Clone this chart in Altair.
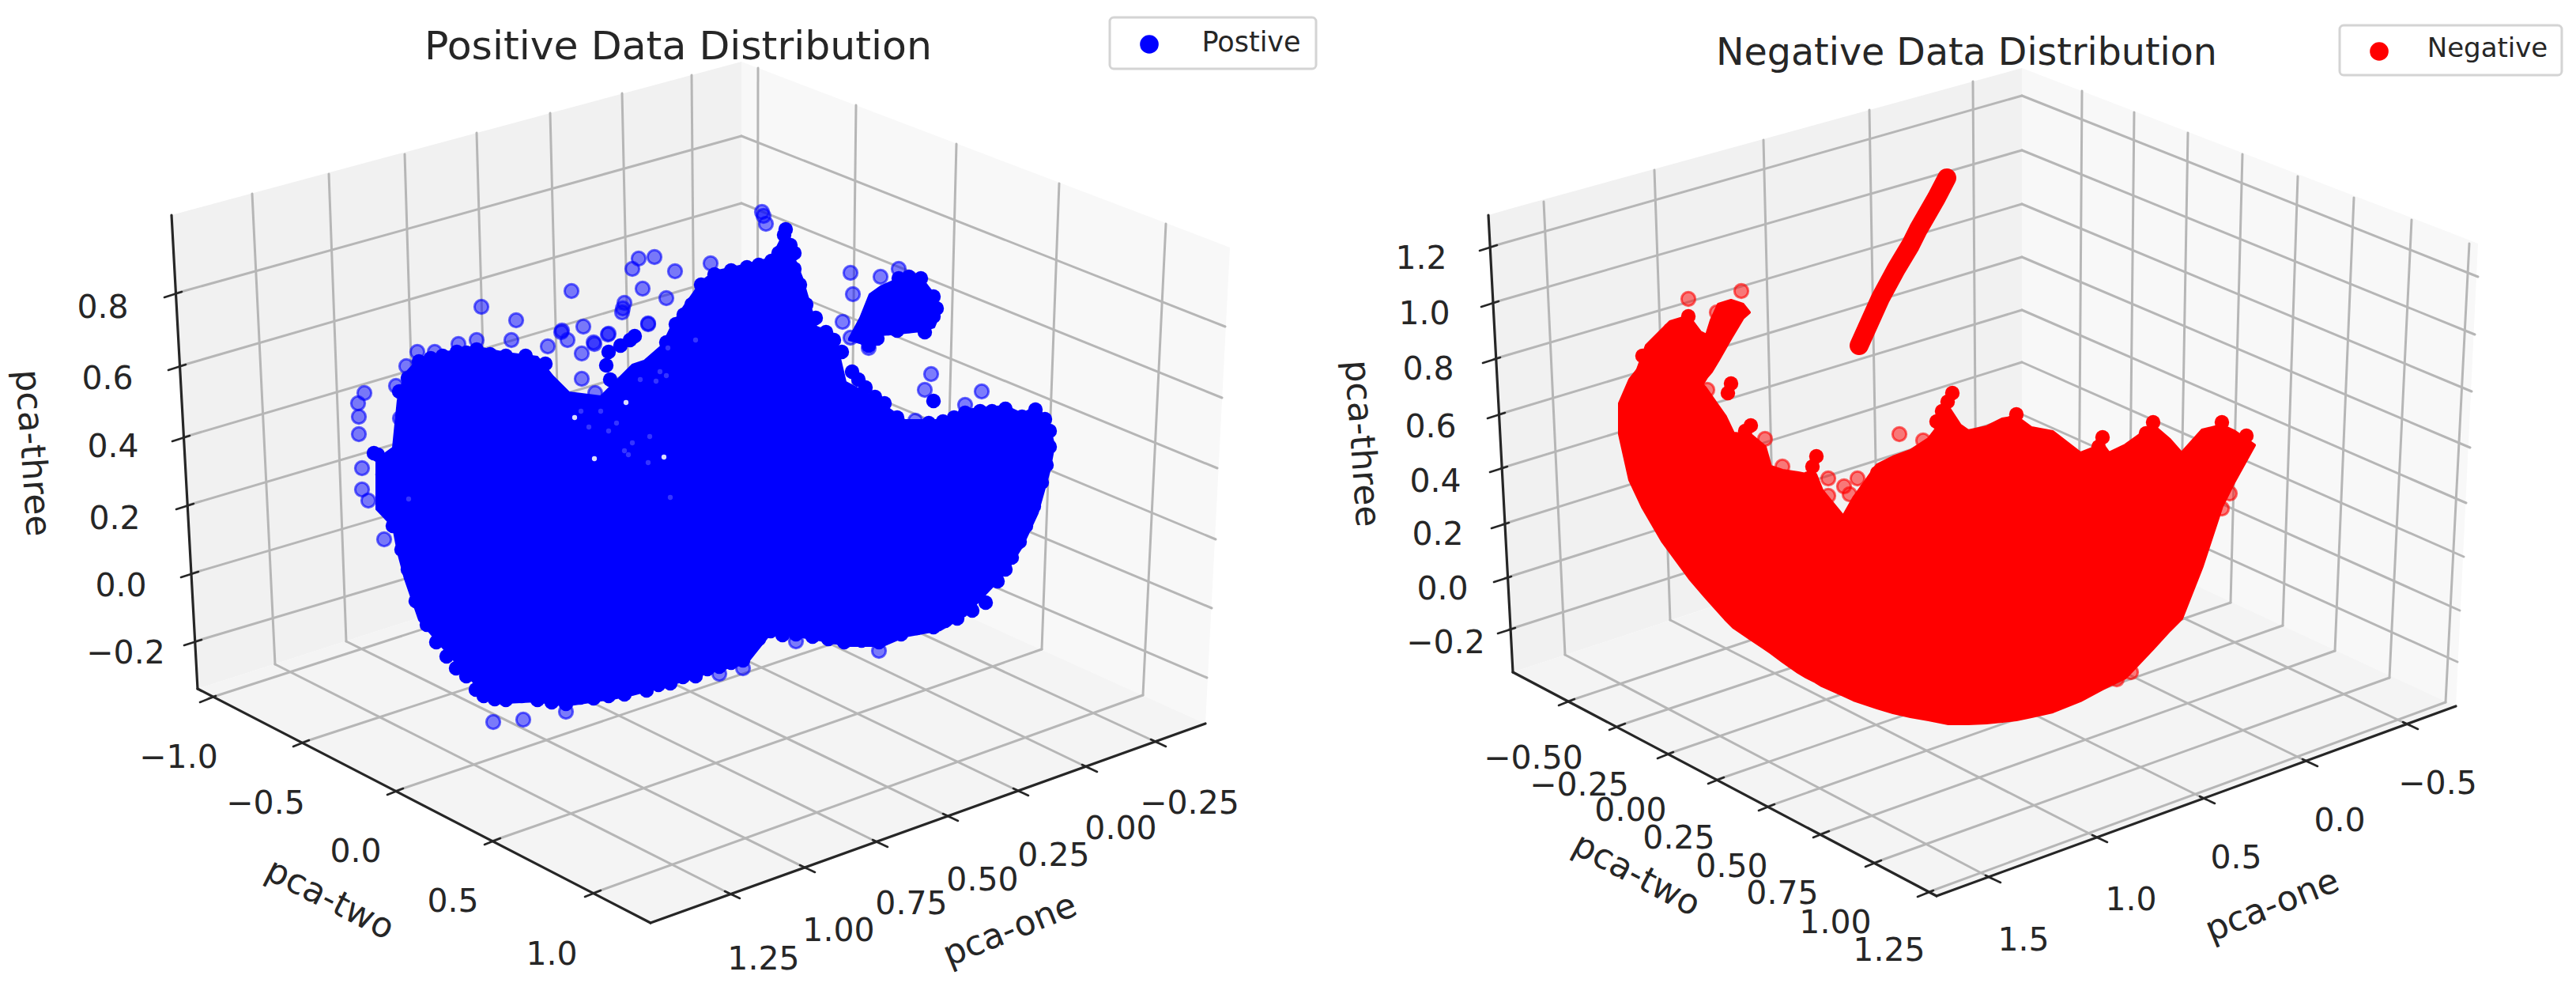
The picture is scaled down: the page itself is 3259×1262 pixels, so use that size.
import altair as alt
import pandas as pd

SCALE_X = alt.Scale(domain=[8, 3251], nice=False, zero=False)
SCALE_Y = alt.Scale(domain=[1254, 8], nice=False, zero=False)
X = alt.X("x:Q", scale=SCALE_X, axis=None)
Y = alt.Y("y:Q", scale=SCALE_Y, axis=None)

BLUE = "#0000ff"
RED = "#ff0000"
GRID = "#b6b6b6"
INK = "#262626"
WALL_L = "#f1f1f1"
WALL_R = "#f8f8f8"
FLOOR = "#f4f4f4"

# ---- left panel frame
L_panes = [
    ([217, 250, 938], [272, 263, 78], [272, 871, 650], WALL_L),
    ([938, 1525, 1556], [78, 301, 313], [650, 915, 313], WALL_R),
    ([250, 823, 938, 1525], [871, 687, 650, 915], [871, 1167, 1126, 915], FLOOR),
]
L_axes = [(217, 272, 250, 871), (250, 871, 823, 1167), (823, 1167, 1525, 915)]
L_z_ticks = [(222, 371), (227, 463), (232, 553), (237, 639), (243, 725), (247, 811)]
L_z_back_x = 938
L_z_back = [172, 257, 345, 432, 520, 605]
L_z_right = [(1550, 413), (1546, 503), (1540, 592), (1538, 682), (1533, 769), (1527, 857)]
L_wall1_top = [(319, 245), (416, 220), (512, 195), (603, 168), (696, 143), (787, 118), (875, 95)]
L_wall1_bot = [(348, 840), (438, 811), (530, 781), (620, 752), (711, 723), (800, 694), (880, 669)]
L_tick1 = [(925, 1131), (1020, 1098), (1112, 1066), (1201, 1033), (1290, 1001), (1377, 971), (1464, 939)]
L_wall2_top = [(959, 86), (1083, 133), (1210, 182), (1340, 232), (1475, 283)]
L_wall2_bot = [(958, 659), (1076, 712), (1195, 766), (1318, 821), (1446, 879)]
L_tick2 = [(264, 883), (382, 939), (501, 1000), (624, 1063), (751, 1129)]

# ---- right panel frame
R_panes = [
    ([1883, 1914, 2558], [272, 263, 86], [272, 850, 638], WALL_L),
    ([2558, 3107, 3135], [86, 297, 308], [638, 893, 308], WALL_R),
    ([1914, 2450, 2558, 3107], [850, 674, 638, 893], [850, 1133, 1094, 893], FLOOR),
]
R_axes = [(1883, 272, 1914, 850), (1914, 850, 2450, 1133), (2450, 1133, 3107, 893)]
R_z_ticks = [(1886, 312), (1888, 383), (1890, 454), (1896, 524), (1899, 592), (1901, 663), (1904, 731), (1909, 796)]
R_z_back_x = 2558
R_z_back = [121, 190, 258, 325, 392, 458, 524, 588]
R_z_right = [(3135, 350), (3131, 423), (3127, 495), (3125, 566), (3120, 636), (3117, 704), (3112, 772), (3109, 837)]
R_wall1_top = [(1953, 255), (2093, 215), (2231, 177), (2365, 139), (2496, 103)]
R_wall1_bot = [(1980, 828), (2113, 784), (2245, 741), (2375, 698), (2500, 657)]
R_tick1 = [(2520, 1111), (2655, 1060), (2791, 1011), (2921, 964), (3048, 917)]
R_wall2_top = [(2634, 115), (2700, 142), (2768, 168), (2837, 195), (2907, 223), (2978, 250), (3051, 278), (3124, 308)]
R_wall2_bot = [(2630, 671), (2694, 701), (2758, 731), (2822, 762), (2888, 791), (2954, 823), (3023, 857), (3094, 888)]
R_tick2 = [(1983, 887), (2047, 918), (2108, 954), (2172, 986), (2236, 1020), (2305, 1054), (2371, 1091), (2437, 1129)]

# ---- silhouettes of the dense point clouds
blue_x = [476, 497, 503, 512, 530, 560, 600, 640, 680, 700, 720, 760, 775, 800, 815, 838, 850, 864, 887, 904, 945, 976, 990, 1005, 1015, 1033, 1057, 1063, 1070, 1100, 1117, 1145, 1190, 1221, 1272, 1293, 1313, 1328, 1334]
blue_top = [581, 566, 506, 473, 453, 446, 438, 446, 451, 476, 496, 501, 486, 461, 456, 436, 411, 389, 356, 343, 334, 326, 298, 326, 351, 413, 423, 453, 483, 499, 511, 531, 531, 518, 513, 523, 513, 540, 563]
blue_bot = [644, 666, 698, 732, 784, 819, 864, 889, 887, 891, 892, 886, 884, 879, 875, 869, 865, 862, 854, 849, 839, 800, 802, 805, 806, 809, 814, 815, 817, 817, 817, 805, 797, 779, 725, 692, 649, 596, 563]
blue2_x = [1074, 1088, 1100, 1114, 1137, 1165, 1182, 1190]
blue2_top = [428, 402, 372, 362, 352, 350, 372, 392]
blue2_bot = [430, 434, 441, 424, 422, 419, 414, 394]

red_x = [2049, 2062, 2078, 2103, 2139, 2157, 2183, 2193, 2215, 2233, 2240, 2255, 2275, 2285, 2297, 2305, 2332, 2345, 2375, 2395, 2417, 2440, 2450, 2465, 2480, 2490, 2513, 2533, 2551, 2570, 2597, 2632, 2660, 2668, 2689, 2724, 2745, 2760, 2786, 2811, 2826, 2852]
red_top = [510, 480, 460, 455, 470, 490, 527, 548, 550, 565, 590, 595, 598, 600, 600, 620, 653, 630, 588, 578, 570, 555, 542, 515, 538, 545, 540, 530, 527, 541, 546, 573, 562, 573, 563, 538, 556, 573, 544, 538, 545, 563]
red_bot = [549, 607, 641, 684, 733, 754, 783, 793, 808, 820, 825, 836, 850, 856, 862, 867, 879, 885, 895, 901, 906, 910, 912, 915, 915, 915, 914, 912, 910, 906, 900, 886, 871, 867, 857, 820, 797, 782, 716, 640, 610, 563]
red2_x = [2060, 2083, 2113, 2136, 2151, 2159, 2165, 2174, 2190, 2205, 2213]
red2_top = [500, 437, 407, 400, 420, 424, 405, 385, 380, 385, 395]
red2_bot = [520, 520, 520, 520, 490, 477, 470, 455, 427, 402, 395]
red_streak = [(2463, 225), (2450, 250), (2427, 290), (2417, 310), (2399, 340), (2379, 377), (2352, 437)]

# ---- individual points around the clouds
blue_solid = [
    (478, 575), (484, 600), (490, 630), (497, 665), (508, 695), (516, 720), (526, 760), (540, 790), (552, 812), (565, 830), (577, 845), (590, 855), (602, 872), (612, 880),
    (626, 884), (640, 885), (660, 880), (680, 885), (698, 888), (716, 890), (734, 882), (751, 883), (770, 880), (790, 878), (818, 873), (833, 866), (848, 864), (864, 856), (880, 855), (895, 846), (910, 843),
    (925, 838), (940, 835), (950, 815), (960, 808), (975, 798), (990, 803), (1007, 802), (1028, 805), (1048, 808), (1068, 812), (1090, 810), (1112, 812), (1126, 803), (1140, 802), (1160, 794), (1181, 793), (1196, 785),
    (1211, 782), (1230, 772), (1247, 762), (1262, 735), (1272, 720), (1280, 705), (1290, 685), (1298, 665), (1308, 640), (1318, 610), (1324, 588), (1328, 565), (1328, 545), (1322, 530), (1310, 518),
    (1293, 527), (1272, 517), (1255, 520), (1240, 520), (1221, 522), (1207, 528), (1193, 533), (1175, 535), (1135, 528), (1119, 510), (1107, 502), (1095, 490), (1086, 480), (1078, 470), (1065, 445),
    (1055, 430), (1045, 420), (1032, 402), (1020, 385), (1012, 360), (1005, 340), (1000, 310), (992, 297), (976, 330), (960, 335), (945, 338), (925, 342), (904, 347), (887, 360),
    (875, 385), (865, 398), (855, 410), (843, 433), (690, 460), (665, 450), (640, 450), (620, 448), (603, 442), (590, 446), (578, 445), (560, 450), (545, 453), (530, 457),
    (516, 478), (505, 495), (797, 430), (785, 437), (770, 445), (767, 462), (772, 480), (803, 425), (473, 573),
    (489, 626), (1181, 507), (1165, 352), (1150, 350), (1137, 352), (1181, 375), (1185, 390), (1181, 400), (1170, 420), (1150, 412), (1135, 418), (1124, 415), (1110, 428), (1099, 437), (1088, 425), (994, 290),
    (1005, 320), (985, 320),
]
blue_pale = [
    (609, 388), (653, 405), (723, 368), (808, 327), (828, 325), (800, 340), (854, 343), (813, 365), (790, 383),
    (787, 395), (843, 377), (820, 410), (738, 413), (711, 418), (769, 423), (647, 430), (603, 430), (580, 435),
    (550, 445), (528, 445), (514, 463), (532, 475), (501, 488), (461, 497), (736, 447), (736, 479), (693, 438),
    (718, 430), (751, 433), (899, 333), (966, 273), (964, 268), (969, 283), (1076, 345), (1079, 372), (1114, 350),
    (1137, 340), (1066, 407), (1076, 427), (1099, 440), (1178, 473), (1170, 493), (1242, 495), (1158, 532), (1221, 512),
    (453, 510), (454, 527), (454, 549), (458, 592), (458, 619), (466, 633), (486, 682), (506, 529), (624, 913),
    (662, 910), (716, 900), (910, 852), (940, 845), (1112, 823), (1007, 811), (810, 512), (753, 497), (820, 409),
    (788, 390), (770, 422), (710, 420), (752, 435),
]
blue_holes = [(727, 528), (752, 580), (840, 578), (792, 509)]
blue_specks = [
    (822, 552), (790, 570), (795, 575), (770, 545), (745, 540), (760, 520), (835, 470), (843, 475), (810, 480), (830, 482),
    (800, 560), (780, 535), (735, 520), (820, 585), (845, 440), (880, 430), (517, 631), (848, 629),
]
red_solid = [
    (2190, 485), (2186, 497), (2215, 538), (2208, 545), (2298, 577), (2293, 590), (2288, 605), (2470, 497), (2464, 508),
    (2457, 520), (2450, 533), (2551, 524), (2545, 535), (2660, 553), (2655, 565), (2724, 534), (2715, 548), (2811, 534),
    (2800, 550), (2842, 551), (2835, 570), (2510, 551), (2576, 551), (2597, 556), (2490, 555), (2375, 598), (2395, 588),
    (2136, 400), (2190, 395), (2113, 417), (2078, 450),
]
red_pale = [
    (2160, 493), (2233, 555), (2255, 590), (2313, 605), (2313, 627), (2333, 615), (2350, 605), (2340, 625), (2433, 557),
    (2403, 549), (2811, 643), (2821, 624), (2696, 850), (2678, 859), (2136, 378), (2203, 368), (2172, 395),
]

# ---- text: label, x, y, size, angle
texts = [
    ("Positive Data Distribution", 858, 60, 50.5, 0),
    ("0.8", 130, 390, 41, 0), ("0.6", 136, 480, 41, 0), ("0.4", 143, 566, 41, 0),
    ("0.2", 145, 657, 41, 0), ("0.0", 153, 742, 41, 0), ("−0.2", 159, 827, 41, 0),
    ("pca-three", 40, 573, 44, 86),
    ("−1.0", 226, 959, 41, 0), ("−0.5", 336, 1017, 41, 0), ("0.0", 450, 1078, 41, 0),
    ("0.5", 573, 1141, 41, 0), ("1.0", 698, 1208, 41, 0),
    ("pca-two", 417, 1138, 44, 27),
    ("−0.25", 1505, 1017, 41, 0), ("0.00", 1418, 1049, 41, 0), ("0.25", 1333, 1083, 41, 0),
    ("0.50", 1243, 1114, 41, 0), ("0.75", 1153, 1144, 41, 0), ("1.00", 1061, 1178, 41, 0), ("1.25", 966, 1214, 41, 0),
    ("pca-one", 1278, 1177, 44, -22),
    ("Negative Data Distribution", 2488, 68, 47.5, 0),
    ("1.2", 1798, 328, 41, 0), ("1.0", 1802, 398, 41, 0), ("0.8", 1807, 468, 41, 0), ("0.6", 1810, 541, 41, 0),
    ("0.4", 1816, 610, 41, 0), ("0.2", 1819, 677, 41, 0), ("0.0", 1825, 746, 41, 0), ("−0.2", 1829, 814, 41, 0),
    ("pca-three", 1722, 561, 44, 86),
    ("−0.50", 1940, 960, 41, 0), ("−0.25", 1998, 994, 41, 0), ("0.00", 2063, 1026, 41, 0), ("0.25", 2124, 1061, 41, 0),
    ("0.50", 2191, 1097, 41, 0), ("0.75", 2255, 1131, 41, 0), ("1.00", 2322, 1168, 41, 0), ("1.25", 2390, 1203, 41, 0),
    ("pca-two", 2070, 1107, 44, 28),
    ("−0.5", 3084, 992, 41, 0), ("0.0", 2960, 1039, 41, 0), ("0.5", 2829, 1086, 41, 0), ("1.0", 2696, 1139, 41, 0), ("1.5", 2560, 1190, 41, 0),
    ("pca-one", 2875, 1146, 44, -22),
    ("Postive", 1583, 54, 35, 0),
    ("Negative", 3147, 62, 34, 0),
]
legend_boxes = [(1404, 22, 1665, 87), (2960, 32, 3241, 95)]
legend_marks = [(1454, 56, BLUE), (3010, 65, RED)]


def area(xs, tops, bots, color, stroke=0):
    df = pd.DataFrame({"x": xs, "y": tops, "y2": bots})
    return alt.Chart(df).mark_area(color=color, opacity=1, orient="vertical", stroke=color, strokeWidth=stroke, strokeJoin="round").encode(
        x=X, y=alt.Y("y:Q", scale=SCALE_Y, axis=None, stack=None), y2="y2:Q"
    )


def segs(rows, color, width):
    df = pd.DataFrame(rows, columns=["x", "y", "x2", "y2"])
    return alt.Chart(df).mark_rule(color=color, strokeWidth=width, strokeCap="round").encode(x=X, y=Y, x2="x2:Q", y2="y2:Q")


def dots(pts, color, size, opacity=1.0, ring=False):
    df = pd.DataFrame(pts, columns=["x", "y"])
    if ring:
        m = alt.Chart(df).mark_circle(size=size, fill=color, fillOpacity=opacity, stroke=color, strokeOpacity=0.6, strokeWidth=3)
    else:
        m = alt.Chart(df).mark_circle(size=size, color=color, opacity=opacity)
    return m.encode(x=X, y=Y)


def grid_rows(z_ticks, back_x, back, right, w1t, w1b, tick1, w2t, w2b, tick2):
    rows = []
    for (x, y), b, (rx, ry) in zip(z_ticks, back, right):
        rows.append((x, y, back_x, b))
        rows.append((back_x, b, rx, ry))
    for (tx, ty), (bx, by), (kx, ky) in zip(w1t, w1b, tick1):
        rows.append((tx, ty, bx, by))
        rows.append((bx, by, kx, ky))
    for (tx, ty), (bx, by), (kx, ky) in zip(w2t, w2b, tick2):
        rows.append((tx, ty, bx, by))
        rows.append((bx, by, kx, ky))
    return rows


def tick_rows(z_ticks, left_ticks, right_ticks):
    rows = []
    for x, y in z_ticks:
        rows.append((x - 14, y + 5, x + 8, y - 2))
    for x, y in left_ticks:
        rows.append((x - 11, y + 5, x + 9, y - 3))
    for x, y in right_ticks:
        rows.append((x - 8, y - 4, x + 11, y + 5))
    return rows


layers = []
for xs, t, b, c in L_panes + R_panes:
    layers.append(area(xs, t, b, c))
layers.append(segs(grid_rows(L_z_ticks, L_z_back_x, L_z_back, L_z_right, L_wall1_top, L_wall1_bot, L_tick1, L_wall2_top, L_wall2_bot, L_tick2), GRID, 3))
layers.append(segs(grid_rows(R_z_ticks, R_z_back_x, R_z_back, R_z_right, R_wall1_top, R_wall1_bot, R_tick1, R_wall2_top, R_wall2_bot, R_tick2), GRID, 3))
layers.append(segs(L_axes + R_axes, INK, 3.2))
layers.append(segs(tick_rows(L_z_ticks, L_tick2, L_tick1) + tick_rows(R_z_ticks, R_tick2, R_tick1), INK, 2.6))

layers.append(dots(blue_pale, BLUE, 300, 0.5, ring=True))
layers.append(dots(red_pale, RED, 300, 0.5, ring=True))
layers.append(area(blue_x, blue_top, blue_bot, BLUE, 2))
layers.append(area(blue2_x, blue2_top, blue2_bot, BLUE, 2))
layers.append(dots(blue_solid, BLUE, 340))
layers.append(dots(blue_holes, "#dcdcff", 40))
layers.append(dots(blue_specks, "#6a6aff", 40, 0.5))
layers.append(area(red_x, red_top, red_bot, RED, 4))
layers.append(area(red2_x, red2_top, red2_bot, RED, 4))
layers.append(dots(red_solid, RED, 340))
streak_df = pd.DataFrame(red_streak, columns=["x", "y"]).assign(i=range(len(red_streak)))
layers.append(alt.Chart(streak_df).mark_line(color=RED, strokeWidth=24, strokeCap="round", strokeJoin="round").encode(x=X, y=Y, order="i:Q"))

box_df = pd.DataFrame(legend_boxes, columns=["x", "y", "x2", "y2"])
layers.append(alt.Chart(box_df).mark_rect(fill="white", stroke="#d4d4d4", strokeWidth=3, cornerRadius=5).encode(x=X, y=Y, x2="x2:Q", y2="y2:Q"))
mark_df = pd.DataFrame(legend_marks, columns=["x", "y", "c"])
layers.append(alt.Chart(mark_df).mark_circle(size=560, opacity=1).encode(x=X, y=Y, color=alt.Color("c:N", scale=None)))

text_df = pd.DataFrame(texts, columns=["t", "x", "y", "s", "a"])
layers.append(
    alt.Chart(text_df)
    .mark_text(font="DejaVu Sans", color=INK, align="center", baseline="middle")
    .encode(x=X, y=Y, text="t:N", size=alt.Size("s:Q", scale=None, legend=None), angle=alt.Angle("a:Q", scale=None))
)

chart = (
    alt.layer(*layers)
    .properties(width=3243, height=1246, padding=0, background="white", autosize=alt.AutoSizeParams(type="none"))
    .configure_view(stroke=None)
)
chart.save("out.html", embed_options={"renderer": "svg", "actions": False})
